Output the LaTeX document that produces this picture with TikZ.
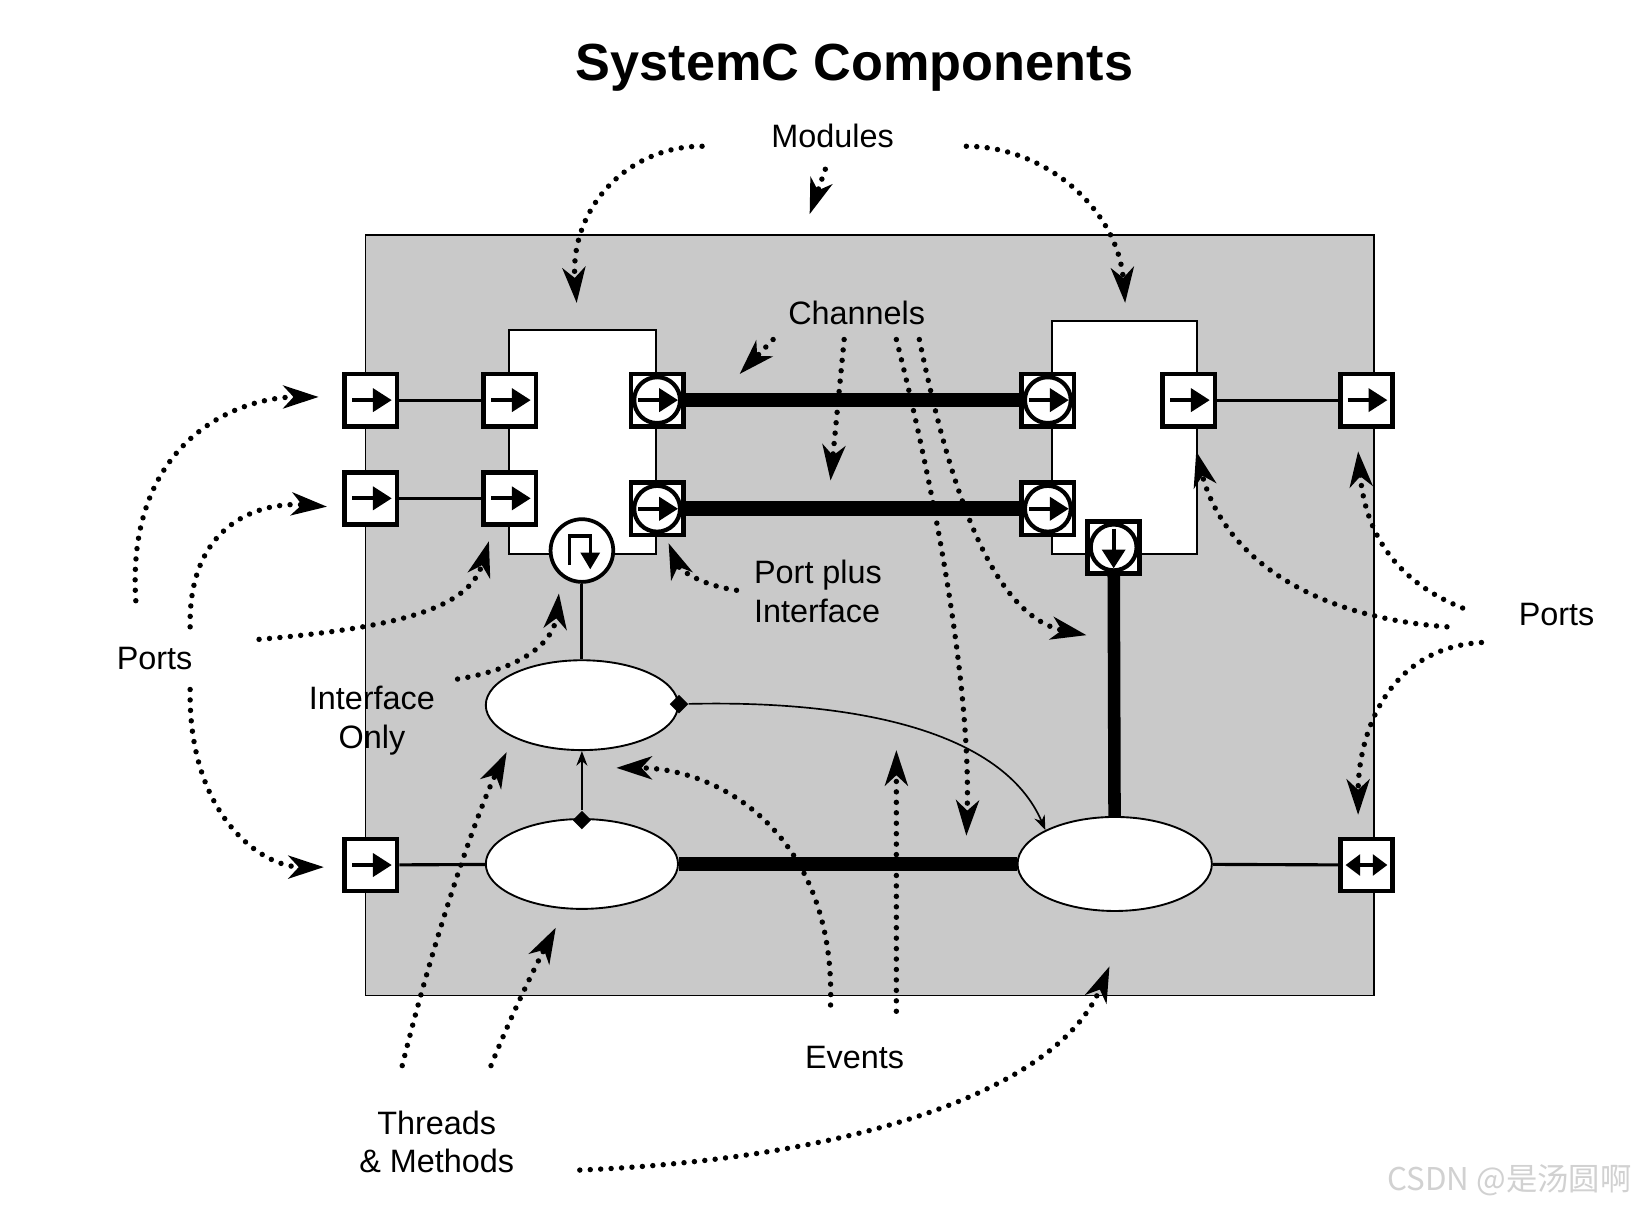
\documentclass[tikz,border=0pt]{standalone}
\usepackage{fontspec}
\setmainfont{Liberation Sans}
\newfontfamily\cjk{Noto Sans CJK SC}
\usetikzlibrary{arrows.meta,shapes.geometric}
\begin{document}
\begin{tikzpicture}[x=0.5pt,y=-0.5pt,
  lbl/.style={font=\fontsize{15.5}{18.5}\selectfont,align=left},
  port/.style={draw,fill=white,line width=2.2pt,minimum size=25pt,inner sep=0pt},
  parr/.style={line width=1.8pt,-{Triangle[length=9pt,width=11pt]}},
  pcirc/.style={draw,fill=white,circle,line width=2pt,minimum size=22pt,inner sep=0pt},
  ell/.style={draw,fill=white,ellipse,line width=0.9pt,minimum width=92pt,minimum height=43pt},
  thin/.style={line width=1.5pt},
  thick/.style={line width=7pt},
  dots/.style={line width=2.6pt,dash pattern=on 0pt off 5pt,line cap=round,-{Stealth[length=17pt,width=11pt,inset=5pt]}},
  dia/.style={diamond,fill=black,inner sep=0pt,minimum size=9pt}]
\useasboundingbox (0,0) rectangle (1566,1154);
\fill[white] (0,0) rectangle (1566,1154);
\node[font=\fontsize{25}{30}\selectfont\bfseries] (title) at (818,65) {SystemC Components};
\draw[fill=black!21,line width=0.8pt] (350,225) rectangle (1315,953);
\draw[fill=white,line width=0.8pt] (487,316) rectangle (628,530);
\draw[fill=white,line width=0.8pt] (1007,307) rectangle (1146,530);
% ellipses
\node[ell] (e1) at (557,675) {};
\node[ell] (e2) at (557,827) {};
\node[ell,minimum width=93pt,minimum height=45pt] (e3) at (1067,827) {};
% ports
\foreach \n/\x/\y in {o1/355/383,o2/355/477,o3/355/828,i1/488/383,i2/488/477,r1/1138/383,ro1/1308/383}{
  \node[port] (\n) at (\x,\y) {};
  \draw[parr] ([xshift=-9pt]\n.center) -- ([xshift=10pt]\n.center);
}
\node[port] (ro2) at (1308,828) {};
\draw[line width=1.6pt,{Triangle[length=7pt,width=10pt]}-{Triangle[length=7pt,width=10pt]}] ([xshift=-10pt]ro2.center) -- ([xshift=10pt]ro2.center);
\foreach \n/\x/\y in {c1/629/383,c2/629/487,c3/1003/383,c4/1003/487}{
  \node[port] (\n) at (\x,\y) {};
  \node[pcirc] (\n c) at (\x,\y) {};
  \draw[parr] ([xshift=-9pt]\n.center) -- ([xshift=10pt]\n.center);
}
\node[port] (cd) at (1066,524) {};
\node[pcirc] (cdc) at (1066,524) {};
\draw[parr] ([yshift=9pt]cd.center) -- ([yshift=-10pt]cd.center);
% interface only
\node[draw,fill=white,circle,line width=1.8pt,minimum size=30pt] (io) at (557,527) {};
\draw[line width=1.6pt,-{Triangle[length=8pt,width=9pt]}] ([xshift=-6pt,yshift=-7pt]io.center) -- ([xshift=-6pt,yshift=7pt]io.center) -- ([xshift=4pt,yshift=7pt]io.center) -- ([xshift=4pt,yshift=-9pt]io.center);
% connections
\draw[thin] (o1) -- (i1);
\draw[thin] (o2) -- (i2);
\draw[thin] (o3) -- (e2);
\draw[thin] (e3) -- (ro2);
\draw[thin] (r1) -- (ro1);
\draw[thin] (io) -- (e1);
\draw[thick] (c1) -- (c3);
\draw[thick] (c2) -- (c4);
\draw[thick] (e2) -- (e3);
\draw[line width=6pt] (cd) -- (e3);
% events
\node[dia] (d1) at (650,674) {};
\draw[line width=0.8pt,-{Stealth[length=7pt]}] (d1) .. controls (820,670) and (960,700) .. (e3.north west);
\node[dia] (d2) at (557,785) {};
\draw[line width=0.9pt,-{Stealth[length=7pt]}] (d2) -- (e1);
% labels
\node[lbl] (lmod) at (797,130) {Modules};
\node[lbl] (lch) at (820,300) {Channels};
\node[lbl] (lpi) at (783,566) {Port plus\\Interface};
\node[lbl] (lpl) at (148,630) {Ports};
\node[lbl,align=center] (lio) at (356,690) {Interface\\Only};
\node[lbl] (lpr) at (1490,588) {Ports};
\node[lbl] (lev) at (818,1012) {Events};
\node[lbl,align=center] (lth) at (418,1093) {Threads\\\& Methods};
\node[font=\cjk\fontsize{15}{18}\selectfont,text=black!18] (wm) at (1445,1130) {CSDN @是汤圆啊};
% dotted arrows
\coordinate (a1) at (672,140); \coordinate (b1) at (552,290);
\draw[dots] (a1) .. controls (600,140) and (545,200) .. (b1);
\coordinate (a2) at (925,140); \coordinate (b2) at (1077,290);
\draw[dots] (a2) .. controls (1000,140) and (1070,200) .. (b2);
\coordinate (a3) at (790,162); \coordinate (b3) at (775,205);
\draw[dots] (a3) -- (b3);
\coordinate (a4) at (740,325); \coordinate (b4) at (708,358);
\draw[dots] (a4) -- (b4);
\coordinate (a5) at (808,325); \coordinate (b5) at (795,460);
\draw[dots] (a5) -- (b5);
\coordinate (a6) at (858,325); \coordinate (b6) at (925,800);
\draw[dots] (a6) .. controls (890,450) and (930,650) .. (b6);
\coordinate (a7) at (880,325); \coordinate (b7) at (1040,608);
\draw[dots] (a7) .. controls (910,470) and (950,590) .. (b7);
\coordinate (a8) at (130,575); \coordinate (b8) at (305,380);
\draw[dots] (a8) .. controls (120,420) and (230,380) .. (b8);
\coordinate (a9) at (182,600); \coordinate (b9) at (313,485);
\draw[dots] (a9) .. controls (180,500) and (250,480) .. (b9);
\coordinate (a10) at (248,612); \coordinate (b10) at (468,518);
\draw[dots] (a10) .. controls (390,600) and (450,580) .. (b10);
\coordinate (a11) at (182,660); \coordinate (b11) at (310,830);
\draw[dots] (a11) .. controls (180,780) and (250,830) .. (b11);
\coordinate (a12) at (705,565); \coordinate (b12) at (640,520);
\draw[dots] (a12) .. controls (670,560) and (650,545) .. (b12);
\coordinate (a13) at (438,650); \coordinate (b13) at (535,568);
\draw[dots] (a13) .. controls (500,640) and (530,615) .. (b13);
\coordinate (a14) at (1385,600); \coordinate (b14) at (1145,432);
\draw[dots] (a14) .. controls (1250,590) and (1170,530) .. (b14);
\coordinate (a15) at (1400,582); \coordinate (b15) at (1300,432);
\draw[dots] (a15) .. controls (1320,550) and (1305,490) .. (b15);
\coordinate (a16) at (1418,615); \coordinate (b16) at (1300,780);
\draw[dots] (a16) .. controls (1330,620) and (1300,700) .. (b16);
\coordinate (a17) at (795,962); \coordinate (b17) at (590,735);
\draw[dots] (a17) .. controls (800,800) and (690,735) .. (b17);
\coordinate (a18) at (858,968); \coordinate (b18) at (858,718);
\draw[dots] (a18) -- (b18);
\coordinate (a19) at (385,1020); \coordinate (b19) at (485,720);
\draw[dots] (a19) .. controls (420,880) and (460,770) .. (b19);
\coordinate (a20) at (470,1020); \coordinate (b20) at (532,888);
\draw[dots] (a20) .. controls (490,970) and (515,920) .. (b20);
\coordinate (a21) at (555,1120); \coordinate (b21) at (1062,925);
\draw[dots] (a21) .. controls (800,1110) and (1010,1050) .. (b21);
\end{tikzpicture}
\end{document}
